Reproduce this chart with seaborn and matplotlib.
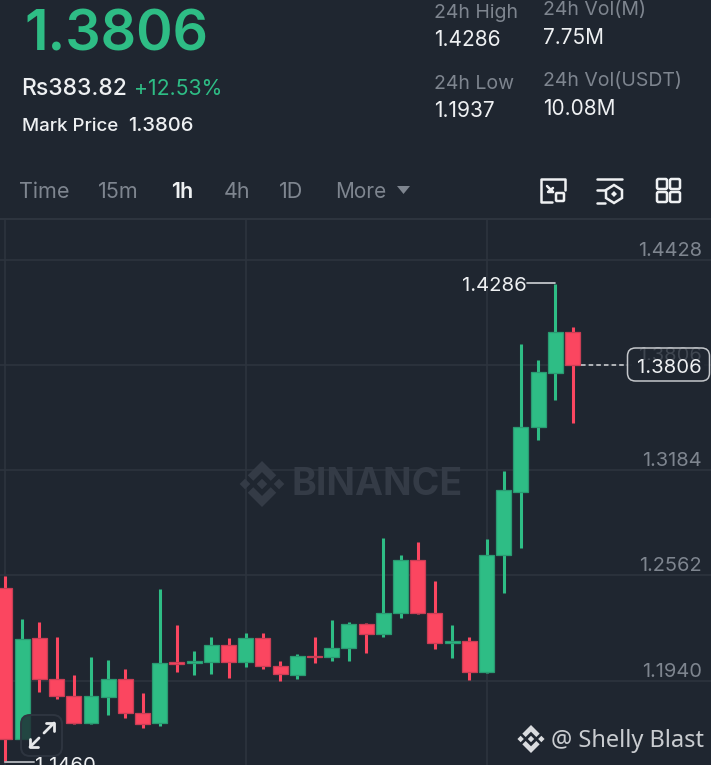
import numpy as np
import pandas as pd
import matplotlib
matplotlib.use('Agg')
import matplotlib.pyplot as plt
from matplotlib.patches import FancyBboxPatch, Polygon, Rectangle
import seaborn as sns

BG = '#1f2630'
GRID = '#2d343e'
GREEN = '#2ebd85'
RED = '#fb4660'
MUTED = '#7e858f'
WHITE = '#eef0f2'

open_px = [1.2487, 1.1594, 1.2191, 1.1949, 1.1849, 1.1689, 1.1843, 1.1949, 1.1748, 1.1689,
           1.2050, 1.2044, 1.2050, 1.2150, 1.2050, 1.2191, 1.2026, 1.1973, 1.2088, 1.2079,
           1.2132, 1.2274, 1.2215, 1.2339, 1.2652, 1.2339, 1.2162, 1.2174, 1.1990, 1.2682,
           1.3054, 1.3438, 1.3758, 1.4000]
close_px = [1.1594, 1.2185, 1.1949, 1.1849, 1.1689, 1.1849, 1.1949, 1.1748, 1.1683, 1.2044,
            1.2038, 1.2055, 1.2150, 1.2050, 1.2191, 1.2026, 1.1979, 1.2085, 1.2079, 1.2132,
            1.2274, 1.2215, 1.2339, 1.2652, 1.2339, 1.2162, 1.2174, 1.1990, 1.2682, 1.3066,
            1.3438, 1.3763, 1.4000, 1.3806]
high_px = [1.2558, 1.2304, 1.2286, 1.2197, 1.1973, 1.2079, 1.2061, 1.2008, 1.1866, 1.2481,
           1.2268, 1.2115, 1.2197, 1.2191, 1.2221, 1.2221, 1.2055, 1.2097, 1.2197, 1.2298,
           1.2286, 1.2280, 1.2782, 1.2682, 1.2759, 1.2528, 1.2268, 1.2197, 1.2776, 1.3178,
           1.3929, 1.3834, 1.4286, 1.4029]
low_px = [1.1460, 1.1594, 1.1872, 1.1831, 1.1683, 1.1683, 1.1736, 1.1719, 1.1659, 1.1671,
          1.1990, 1.1973, 1.1979, 1.1955, 1.2020, 1.2008, 1.1937, 1.1949, 1.2044, 1.2055,
          1.2055, 1.2103, 1.2197, 1.2310, 1.2333, 1.2126, 1.2073, 1.1943, 1.1985, 1.2457,
          1.2723, 1.3362, 1.3598, 1.3462]
price_ticks = [1.4428, 1.3806, 1.3184, 1.2562, 1.1940]
grid_candles = [0, 14, 28]
tab_labels = ['Time', '15m', '1h', '4h', '1D', 'More']

sns.set_theme(style='dark', rc={'figure.facecolor': BG, 'axes.facecolor': BG})
plt.rcParams['font.family'] = ['Inter', 'DejaVu Sans']

candles = pd.DataFrame({'candle': range(len(open_px)), 'open': open_px, 'close': close_px,
                        'high': high_px, 'low': low_px})
candles['dir'] = np.where(candles['close'] >= candles['open'], 'up', 'down')
candles['base'] = candles[['open', 'close']].min(axis=1)
candles['size'] = (candles['close'] - candles['open']).abs()

fig = plt.figure(figsize=(7.11, 7.65), dpi=100)
ax = fig.add_axes([0, 0, 1, 546 / 765])

# wicks
wicks = candles.melt(id_vars=['candle', 'dir'], value_vars=['high', 'low'], value_name='price')
sns.lineplot(data=wicks, x='candle', y='price', units='candle', estimator=None, hue='dir',
             palette={'up': GREEN, 'down': RED}, sort=False, legend=False, lw=2.2,
             solid_capstyle='butt', ax=ax, zorder=2)

# bodies
for name, colour, edge in [('up', GREEN, '#2a9a72'), ('down', RED, '#c93e55')]:
    part = candles[candles['dir'] == name]
    sns.barplot(data=part, x='candle', y='size', bottom=part['base'].to_numpy(), native_scale=True,
                color=colour, saturation=1, width=0.87, errorbar=None, edgecolor=edge,
                linewidth=0.9, zorder=3, ax=ax)

ax.set_xlim(-0.29, 41.05)
ax.set_ylim(1.1441, 1.4668)
ax.set_xticks([])
ax.set_yticks([])
ax.set_xlabel('')
ax.set_ylabel('')
for s in ax.spines.values():
    s.set_visible(False)
for p in price_ticks:
    ax.axhline(p, color=GRID, lw=1.2, zorder=0)
for c in grid_candles:
    ax.axvline(c, color=GRID, lw=1.2, zorder=0)
for p in price_ticks:
    ax.annotate(f'{p:.4f}', (1, p), xycoords=('axes fraction', 'data'), xytext=(-6.5, 0),
                textcoords='offset points', ha='right', va='bottom', color=MUTED, fontsize=14.4,
                zorder=1)

# overlay drawn in picture pixels
ui = fig.add_axes([0, 0, 1, 1], facecolor='none')
ui.set_xlim(0, 711)
ui.set_ylim(765, 0)
ui.axis('off')


def label(x, y, s, color=WHITE, size=13, weight='normal', ha='left', **kw):
    return ui.text(x, y, s, color=color, fontsize=size, fontweight=weight, ha=ha, va='center', **kw)


def logo(cx, cy, r, color, zorder=1):
    for dx, dy in [(0, 0), (-0.74, 0), (0.74, 0)]:
        q = 0.23 * r
        px, py = cx + dx * r, cy + dy * r
        ui.add_patch(Polygon([(px, py - q), (px + q, py), (px, py + q), (px - q, py)],
                             color=color, lw=0, zorder=zorder))
    for sign in (-1, 1):
        pts = [(0, 1), (0.62, 0.38), (0.38, 0.14), (0, 0.52), (-0.38, 0.14), (-0.62, 0.38)]
        ui.add_patch(Polygon([(cx + a * r, cy + sign * b * r) for a, b in pts],
                             color=color, lw=0, zorder=zorder))


ui.add_patch(Rectangle((0, 218), 711, 2, color=GRID, lw=0))

label(24, 35, '1.3806', GREEN, 40, 'semibold')
label(21, 89, 'Rs383.82', WHITE, 16.5, 'medium')
label(134, 89, '+12.53%', GREEN, 15.3)
label(22, 126, 'Mark Price', WHITE, 13.5, 'medium')
label(128, 126, '1.3806', WHITE, 14.5, 'medium')

label(434, 13, '24h High', MUTED, 14)
label(434, 40, '1.4286', WHITE, 15)
label(543, 10, '24h Vol(M)', MUTED, 14)
label(543, 38, '7.75M', WHITE, 15)
label(434, 84, '24h Low', MUTED, 14)
label(434, 111, '1.1937', WHITE, 15)
label(543, 81, '24h Vol(USDT)', MUTED, 14)
label(543, 109, '10.08M', WHITE, 15)

for x, t in zip([19, 98, 171, 224, 279, 335], tab_labels):
    label(x, 192, t, WHITE if t == '1h' else MUTED, 15.5 if t != 'More' else 15,
          'semibold' if t == '1h' else 'normal')
ui.add_patch(Polygon([(397, 186), (410, 186), (403.5, 194)], color=MUTED, lw=0))

# toolbar icons
icon = dict(color=WHITE, lw=1.8, solid_capstyle='round')
ui.plot([552, 541, 541, 565, 565], [202, 202, 179, 179, 190], **icon)
ui.add_patch(FancyBboxPatch((556, 193), 8, 8, boxstyle='round,pad=0,rounding_size=1', fill=False,
                            ec=WHITE, lw=1.8))
ui.plot([547, 553], [186, 192], **icon)
ui.plot([553, 548, 553], [188, 192, 192], **icon)
ui.plot([597, 622], [179, 179], **icon)
ui.plot([597, 605], [190, 190], **icon)
ui.plot([597, 605], [203, 203], **icon)
ui.add_patch(Polygon([(614, 185), (622, 190), (622, 198), (614, 203), (606, 198), (606, 190)],
                     fill=False, ec=WHITE, lw=1.8))
ui.add_patch(Polygon([(614, 191), (617, 194), (614, 197), (611, 194)], color=WHITE, lw=0))
for x in (657, 670):
    for y in (179, 192):
        ui.add_patch(FancyBboxPatch((x, y), 10, 10, boxstyle='round,pad=0,rounding_size=1.5',
                                    fill=False, ec=WHITE, lw=1.8))

# watermark
logo(262, 484, 23, '#343b46')
label(291, 485, 'BINANCE', '#343b46', 27, 'bold')

# extremes and last price
label(527, 286, '1.4286', WHITE, 14.6, ha='right')
ui.plot([527, 555], [283, 283], color='#cfd2d6', lw=1.2)
label(35, 766, '1.1460', WHITE, 14.6, clip_on=True)
ui.plot([5, 34], [762, 762], color='#a9adb3', lw=1.4)
ui.plot([581, 627], [365, 365], color='#d5d7da', lw=1.1, ls=(0, (3, 2)))
# box covers the top of the 1.3806 tick label only partly
ui.add_patch(FancyBboxPatch((627.5, 348), 82, 33, boxstyle='round,pad=0,rounding_size=8',
                            fc=BG + 'a8', ec='#c4c7cb', lw=1.1))
ui.add_patch(Rectangle((632, 360), 72, 18, color=BG, lw=0))
label(702, 368, '1.3806', WHITE, 14.6, ha='right')

# expand button
ui.add_patch(FancyBboxPatch((21, 715), 41, 41, boxstyle='round,pad=0,rounding_size=9',
                            fc=BG + 'c8', ec='#2e3540', lw=1.4, zorder=4))
arrow = dict(color='#e6e8ea', lw=2, solid_capstyle='round', zorder=5)
ui.plot([44, 54], [733, 723], **arrow)
ui.plot([46, 54, 54], [723, 723, 731], **arrow)
ui.plot([30, 39], [747, 738], **arrow)
ui.plot([30, 30, 38], [739, 747, 747], **arrow)

# credit
logo(531, 739, 14, '#d9dbde')
label(551, 741, '@ Shelly Blast', '#c9ccd0', 17, family=['Noto Sans', 'DejaVu Sans'])

fig.savefig('out.png', dpi=100, facecolor=BG)
